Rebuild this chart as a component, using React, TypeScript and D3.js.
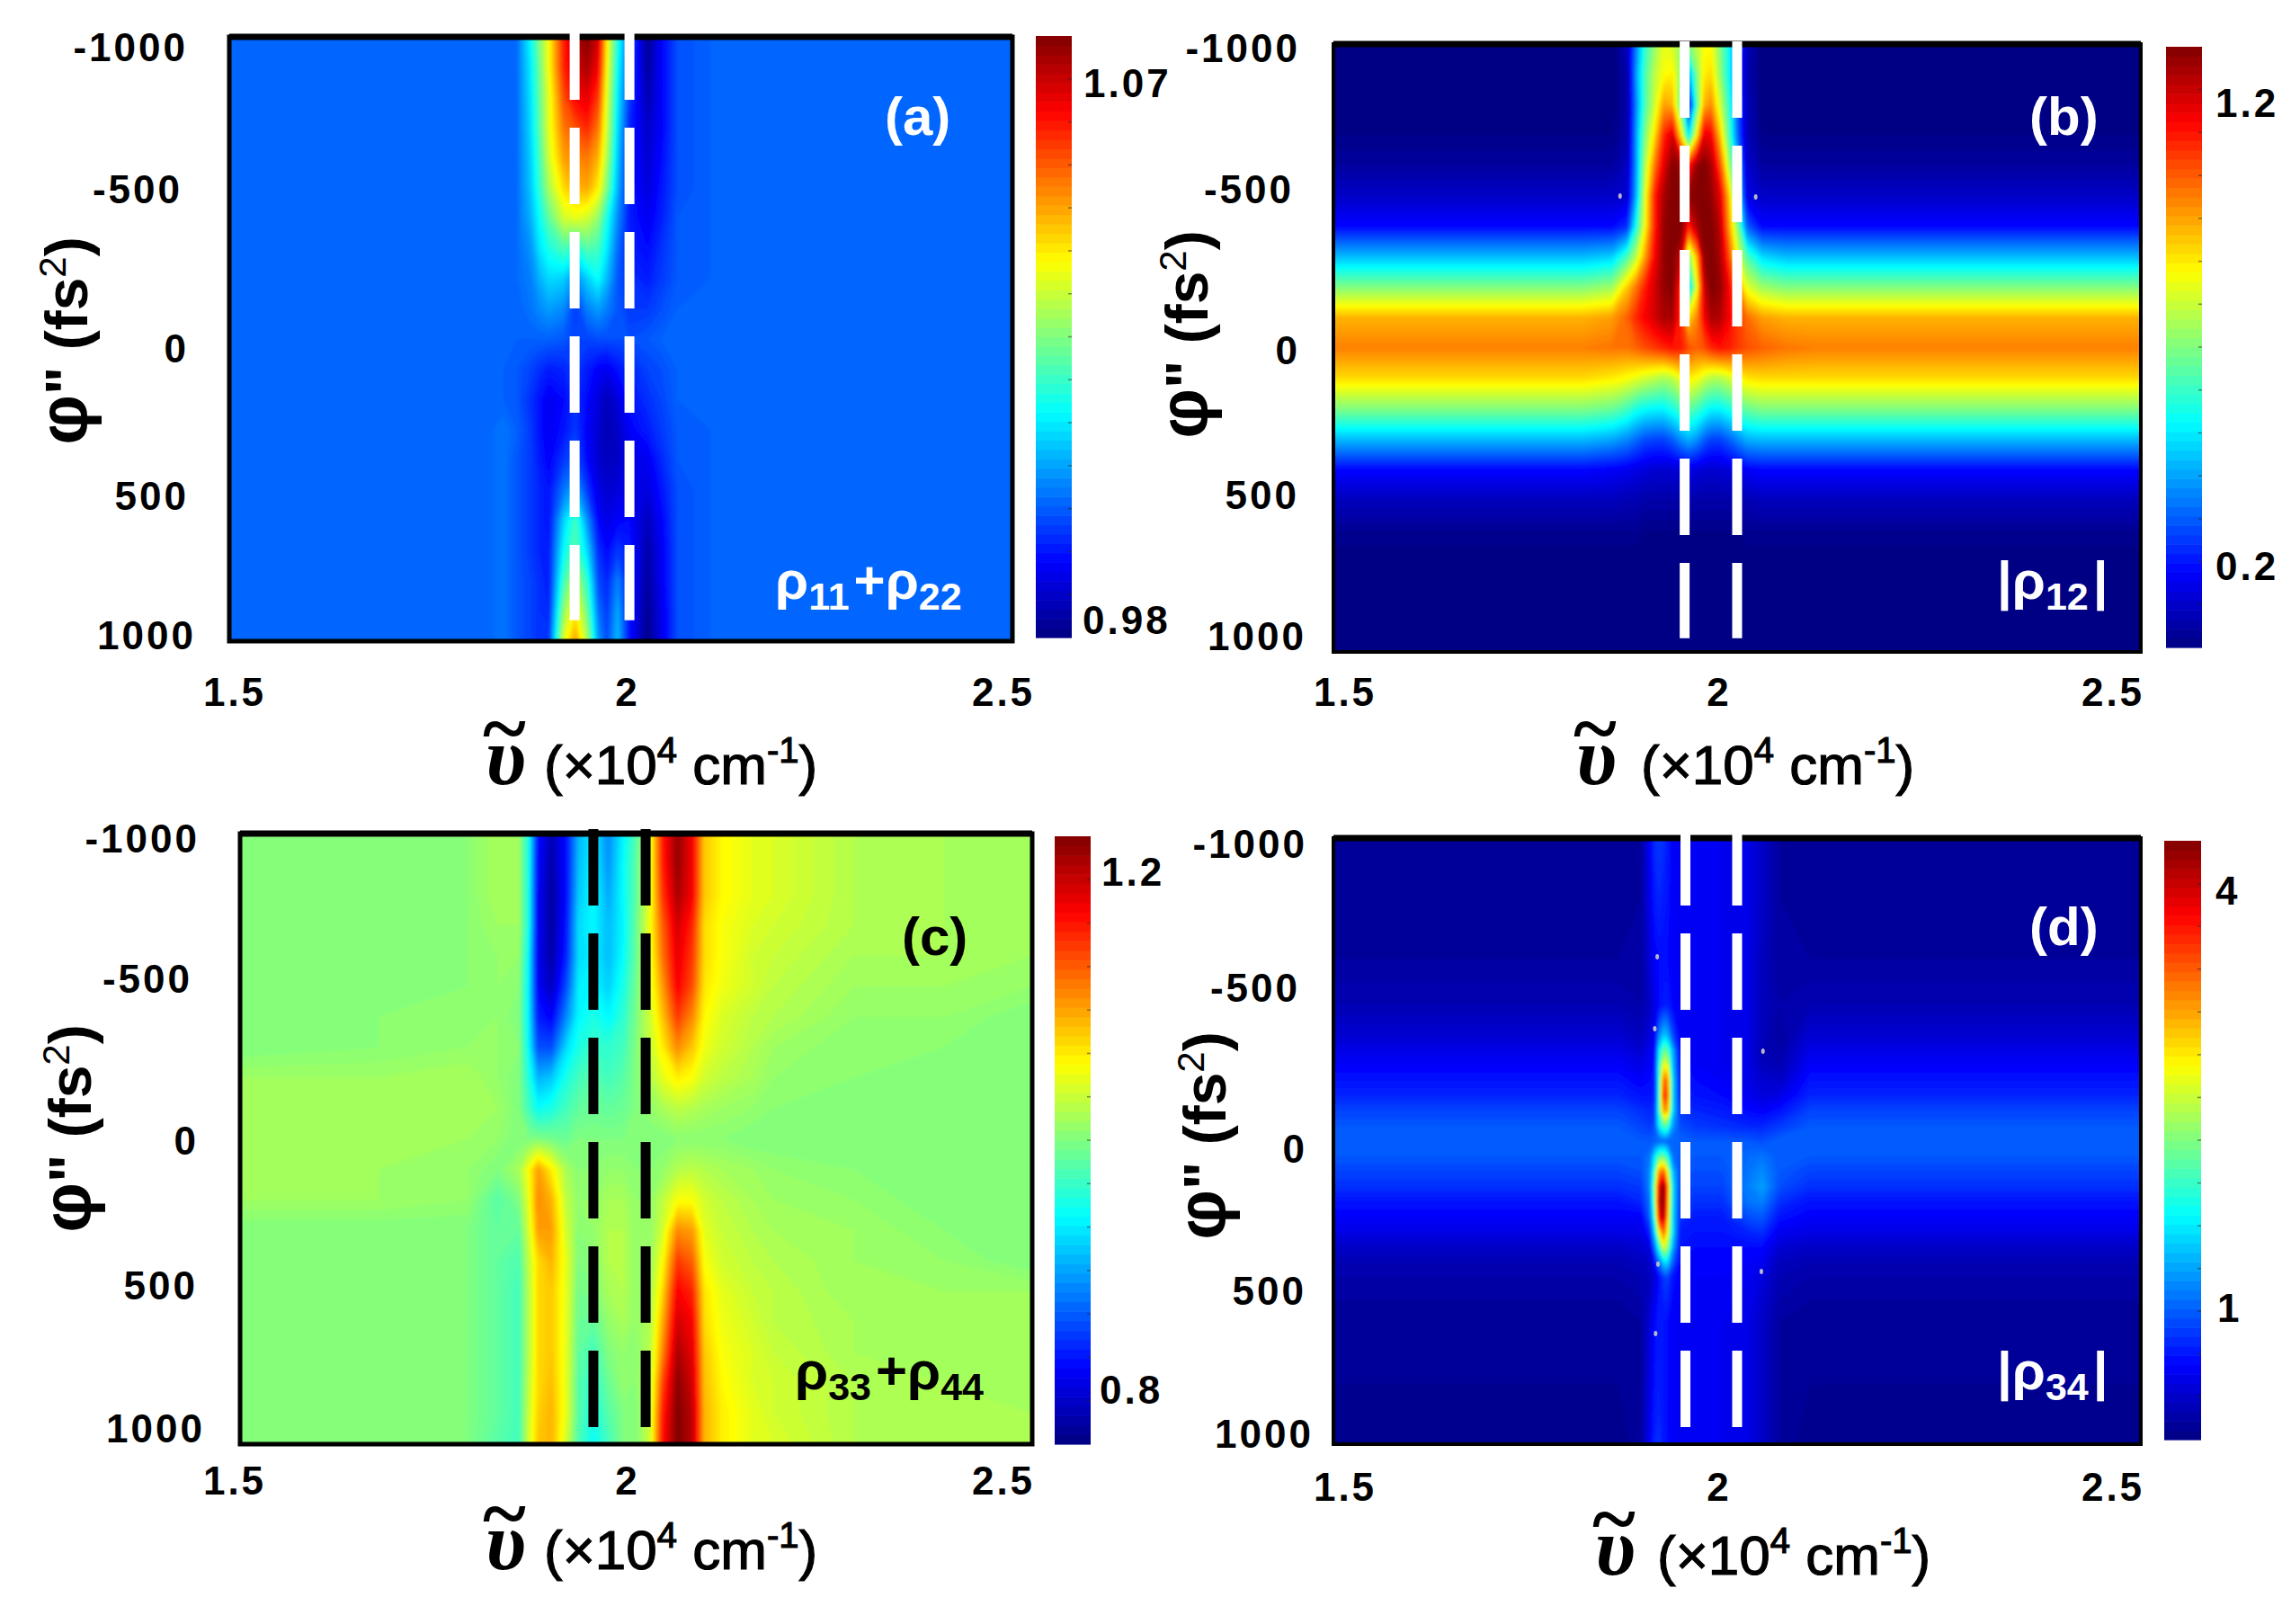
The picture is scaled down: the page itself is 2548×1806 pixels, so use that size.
import * as d3 from "d3";
import React, { useMemo } from "react";

// all grids hold the position on the jet colour bar, 0 (dark blue) .. 100 (dark red)
const phiTicks = ["-1000", "-500", "0", "500", "1000"];
const nuTicks = ["1.5", "2", "2.5"];
const phiEvery100 = [-1000, -900, -800, -700, -600, -500, -400, -300, -200, -100, 0, 100, 200, 300, 400, 500, 600, 700, 800, 900, 1000];

// (a) rho11 + rho22
const nuA = [1.5, 1.824, 1.85, 1.867, 1.885, 1.896, 1.908, 1.927, 1.942, 1.957, 1.971, 1.982, 1.996, 2.011, 2.034, 2.051, 2.072, 2.114, 2.5];
const gridA = [
  [22, 22, 22, 23, 38, 50, 62, 85, 95, 100, 92, 65, 40, 22, 2, 12, 20, 22, 22],
  [22, 22, 22, 23, 36, 48, 62, 84, 92, 96, 88, 63, 38, 20, 3, 12, 20, 22, 22],
  [22, 22, 22, 23, 35, 47, 60, 80, 88, 90, 82, 60, 36, 18, 5, 12, 20, 22, 22],
  [22, 22, 22, 23, 34, 46, 60, 76, 80, 84, 76, 58, 34, 16, 7, 12, 20, 22, 22],
  [22, 22, 22, 23, 33, 44, 58, 72, 74, 76, 70, 55, 32, 15, 8, 13, 20, 22, 22],
  [22, 22, 22, 23, 32, 42, 54, 66, 70, 71, 64, 50, 30, 15, 9, 14, 20, 22, 22],
  [22, 22, 22, 23, 30, 38, 47, 58, 60, 58, 52, 40, 26, 15, 11, 15, 21, 22, 22],
  [22, 22, 22, 23, 27, 35, 40, 45, 40, 46, 44, 36, 23, 15, 13, 17, 21, 22, 22],
  [22, 22, 22, 23, 25, 30, 34, 33, 26, 33, 38, 31, 21, 17, 15, 18, 21, 22, 22],
  [22, 22, 22, 22, 24, 26, 28, 26, 18, 25, 28, 25, 21, 18, 18, 20, 22, 22, 22],
  [22, 22, 22, 22, 22, 22, 22, 21, 19, 19, 20, 20, 20, 20, 21, 22, 22, 22, 22],
  [22, 22, 22, 21, 19, 17, 15, 16, 18, 15, 12, 11, 14, 16, 19, 20, 22, 22, 22],
  [22, 22, 22, 21, 17, 14, 11, 13, 17, 13, 9, 6, 9, 14, 17, 19, 22, 22, 22],
  [22, 22, 24, 22, 18, 14, 11, 14, 18, 12, 8, 5, 7, 12, 15, 18, 21, 22, 22],
  [22, 22, 24, 21, 18, 15, 12, 18, 21, 13, 8, 6, 7, 10, 11, 16, 21, 22, 22],
  [22, 22, 24, 21, 18, 16, 14, 24, 30, 18, 10, 8, 9, 10, 9, 14, 20, 22, 22],
  [22, 22, 24, 21, 18, 16, 14, 33, 44, 27, 13, 10, 12, 13, 6, 12, 20, 22, 22],
  [22, 22, 24, 21, 18, 16, 15, 38, 46, 34, 17, 13, 18, 15, 4, 11, 20, 22, 22],
  [22, 22, 24, 21, 19, 17, 15, 44, 56, 42, 20, 16, 25, 15, 3, 11, 20, 22, 22],
  [22, 22, 24, 21, 19, 17, 16, 52, 64, 48, 24, 18, 29, 14, 2, 10, 20, 22, 22],
  [22, 22, 24, 21, 19, 17, 18, 60, 72, 55, 28, 20, 31, 14, 1, 10, 20, 22, 22],
];

// (b) |rho12|
const nuB = [1.5, 1.808, 1.845, 1.864, 1.875, 1.886, 1.898, 1.909, 1.92, 1.931, 1.94, 1.95, 1.959, 1.968, 1.979, 1.99, 2.001, 2.012, 2.031, 2.061, 2.098, 2.5];
const gridB = [
  [0, 0, 0, 6, 25, 42, 52, 60, 58, 52, 50, 56, 62, 62, 50, 38, 20, 6, 0, 0, 0, 0],
  [0, 0, 0, 4, 28, 45, 56, 62, 64, 50, 28, 50, 64, 66, 52, 38, 20, 5, 0, 0, 0, 0],
  [0, 0, 0, 4, 26, 45, 58, 72, 70, 45, 10, 45, 70, 74, 58, 42, 20, 6, 0, 0, 0, 0],
  [1, 1, 1, 4, 28, 50, 66, 84, 92, 64, 35, 64, 90, 88, 68, 45, 22, 6, 1, 1, 1, 1],
  [3, 3, 3, 6, 28, 55, 76, 90, 100, 96, 85, 98, 100, 96, 80, 55, 30, 8, 3, 3, 3, 3],
  [7, 7, 7, 8, 30, 60, 85, 96, 100, 100, 98, 100, 100, 98, 90, 68, 38, 10, 7, 7, 7, 7],
  [13, 13, 13, 17, 40, 62, 85, 98, 100, 100, 84, 96, 100, 100, 94, 72, 50, 22, 13, 13, 13, 13],
  [31, 31, 33, 45, 56, 72, 88, 98, 100, 92, 50, 70, 98, 100, 96, 80, 60, 45, 34, 31, 31, 31],
  [50, 50, 53, 68, 76, 85, 92, 98, 100, 82, 32, 60, 92, 100, 98, 88, 75, 60, 53, 50, 50, 50],
  [70, 70, 72, 78, 84, 88, 92, 96, 96, 82, 66, 74, 88, 96, 95, 88, 82, 77, 72, 70, 70, 70],
  [75, 75, 76, 76, 78, 80, 82, 84, 86, 85, 80, 78, 80, 84, 86, 85, 82, 80, 78, 76, 75, 75],
  [66, 66, 64, 62, 60, 58, 56, 54, 56, 62, 64, 62, 58, 55, 55, 58, 62, 65, 66, 66, 66, 66],
  [50, 50, 48, 44, 40, 38, 37, 37, 40, 45, 47, 44, 40, 37, 37, 40, 44, 48, 50, 50, 50, 50],
  [31, 31, 29, 26, 23, 20, 19, 19, 22, 27, 30, 27, 22, 19, 19, 22, 26, 30, 31, 31, 31, 31],
  [13, 13, 12, 11, 10, 9, 8, 8, 8, 9, 10, 9, 8, 8, 8, 9, 10, 12, 13, 13, 13, 13],
  [6, 6, 6, 5, 5, 4, 4, 4, 4, 4, 5, 4, 4, 4, 4, 4, 5, 5, 6, 6, 6, 6],
  [2, 2, 2, 2, 2, 1, 1, 1, 1, 1, 1, 1, 1, 1, 1, 1, 1, 2, 2, 2, 2, 2],
  [0, 0, 0, 0, 0, 0, 0, 0, 0, 0, 0, 0, 0, 0, 0, 0, 0, 0, 0, 0, 0, 0],
  [0, 0, 0, 0, 0, 0, 0, 0, 0, 0, 0, 0, 0, 0, 0, 0, 0, 0, 0, 0, 0, 0],
  [0, 0, 0, 0, 0, 0, 0, 0, 0, 0, 0, 0, 0, 0, 0, 0, 0, 0, 0, 0, 0, 0],
  [0, 0, 0, 0, 0, 0, 0, 0, 0, 0, 0, 0, 0, 0, 0, 0, 0, 0, 0, 0, 0, 0],
];
const specksB = [[1.855, -500], [2.023, -497]];

// (c) rho33 + rho44
const nuC = [1.5, 1.674, 1.787, 1.825, 1.852, 1.864, 1.876, 1.893, 1.912, 1.927, 1.946, 1.965, 1.984, 1.999, 2.018, 2.033, 2.052, 2.071, 2.086, 2.108, 2.147, 2.173, 2.275, 2.389, 2.5];
const gridC = [
  [50, 50, 51, 54, 53, 40, 14, 5, 14, 30, 36, 26, 37, 45, 60, 85, 98, 88, 68, 63, 60, 59, 55, 54, 53],
  [50, 50, 51, 54, 53, 40, 13, 4, 14, 31, 37, 27, 38, 46, 61, 84, 98, 88, 68, 63, 60, 59, 55, 54, 53],
  [50, 50, 51, 54, 53, 40, 12, 3, 14, 32, 38, 29, 38, 46, 61, 82, 96, 88, 68, 63, 60, 59, 55, 54, 53],
  [50, 50, 51, 53, 53, 40, 12, 3, 15, 34, 37, 31, 37, 47, 62, 78, 92, 84, 66, 62, 59, 58, 55, 54, 53],
  [50, 50, 51, 52, 52, 38, 11, 4, 16, 34, 36, 31, 38, 47, 61, 76, 90, 82, 66, 62, 58, 57, 54, 54, 53],
  [50, 50, 51, 52, 51, 37, 12, 6, 20, 36, 37, 33, 40, 48, 60, 72, 88, 80, 65, 61, 58, 56, 53, 53, 52],
  [50, 51, 51, 52, 50, 37, 15, 12, 26, 37, 40, 37, 42, 49, 58, 68, 82, 74, 63, 59, 56, 55, 52, 52, 50],
  [50, 51, 52, 52, 51, 38, 20, 20, 34, 40, 43, 42, 44, 50, 57, 64, 74, 68, 61, 58, 55, 53, 51, 51, 50],
  [53, 53, 54, 52, 50, 41, 30, 32, 40, 44, 46, 44, 46, 50, 55, 60, 64, 62, 58, 56, 54, 52, 51, 50, 50],
  [53, 53, 53, 53, 50, 44, 38, 40, 44, 47, 48, 47, 48, 50, 52, 54, 56, 55, 54, 53, 52, 51, 50, 50, 50],
  [53, 53, 53, 52, 50, 50, 50, 49, 48, 50, 50, 50, 50, 50, 50, 50, 51, 51, 51, 51, 50, 50, 50, 50, 50],
  [53, 53, 52, 50, 54, 62, 72, 64, 54, 51, 51, 52, 52, 51, 51, 52, 55, 56, 55, 54, 53, 52, 51, 50, 50],
  [53, 53, 52, 46, 50, 60, 74, 70, 56, 52, 52, 54, 54, 52, 52, 56, 62, 62, 58, 56, 54, 53, 52, 50, 50],
  [50, 50, 50, 47, 47, 58, 72, 72, 58, 51, 52, 55, 55, 52, 52, 58, 74, 72, 60, 57, 55, 54, 53, 51, 50],
  [50, 50, 50, 47, 45, 56, 66, 70, 60, 50, 51, 55, 55, 52, 53, 62, 82, 78, 62, 58, 56, 55, 53, 52, 50],
  [50, 50, 50, 47, 44, 55, 66, 68, 60, 49, 50, 54, 55, 52, 54, 66, 88, 84, 65, 60, 57, 56, 53, 53, 53],
  [50, 50, 50, 47, 44, 55, 66, 68, 60, 48, 47, 52, 54, 52, 55, 70, 92, 88, 66, 61, 58, 56, 54, 53, 53],
  [50, 50, 50, 47, 44, 55, 66, 68, 60, 47, 44, 50, 52, 51, 56, 74, 96, 90, 68, 62, 59, 57, 54, 53, 53],
  [50, 50, 50, 47, 44, 56, 66, 69, 60, 46, 42, 48, 52, 51, 57, 80, 99, 92, 69, 63, 59, 58, 55, 54, 53],
  [50, 50, 50, 47, 44, 57, 67, 70, 60, 46, 40, 46, 50, 50, 58, 84, 100, 94, 70, 64, 60, 58, 55, 54, 54],
  [50, 50, 50, 46, 44, 58, 68, 70, 58, 45, 38, 44, 50, 50, 58, 86, 100, 94, 70, 64, 60, 59, 55, 54, 54],
];

// (d) |rho34|, rows are denser round the two narrow peaks
const nuD = [1.5, 1.853, 1.881, 1.892, 1.898, 1.903, 1.909, 1.914, 1.92, 1.929, 1.948, 1.981, 2.014, 2.031, 2.053, 2.09, 2.5];
const phiD = [-1000, -800, -600, -450, -350, -300, -250, -200, -150, -100, -50, 0, 50, 100, 150, 200, 250, 300, 350, 400, 450, 600, 800, 1000];
const gridD = [
  [2, 2, 3, 12, 17, 18, 17, 15, 12, 11, 11, 11, 10, 7, 3, 2, 2],
  [2, 2, 3, 11, 15, 16, 15, 14, 12, 11, 11, 11, 10, 7, 3, 2, 2],
  [3, 3, 3, 9, 12, 13, 13, 13, 12, 11, 11, 11, 10, 6, 3, 3, 3],
  [5, 5, 4, 7, 10, 13, 15, 15, 13, 11, 11, 11, 10, 6, 4, 5, 5],
  [8, 8, 6, 9, 12, 25, 32, 30, 20, 12, 11, 11, 10, 6, 3, 8, 8],
  [10, 10, 8, 11, 13, 35, 48, 45, 30, 13, 11, 11, 10, 5, 4, 10, 10],
  [12, 12, 10, 12, 14, 40, 62, 60, 32, 14, 12, 11, 10, 6, 5, 12, 12],
  [14, 14, 12, 13, 15, 40, 78, 74, 35, 15, 13, 12, 10, 8, 7, 14, 14],
  [16, 16, 14, 14, 16, 40, 84, 78, 35, 16, 14, 13, 11, 9, 10, 16, 16],
  [19, 19, 17, 16, 18, 42, 72, 70, 35, 18, 16, 15, 13, 12, 14, 19, 19],
  [21, 21, 19, 18, 20, 36, 46, 44, 28, 20, 18, 17, 16, 16, 18, 21, 21],
  [22, 22, 21, 21, 22, 22, 23, 22, 22, 22, 21, 21, 21, 20, 22, 22, 22],
  [21, 21, 21, 24, 36, 46, 48, 40, 24, 21, 21, 21, 23, 24, 21, 21, 21],
  [19, 19, 20, 26, 45, 72, 78, 60, 32, 20, 20, 20, 24, 26, 21, 19, 19],
  [17, 17, 18, 26, 52, 88, 100, 74, 36, 19, 19, 19, 25, 28, 20, 17, 17],
  [14, 14, 16, 24, 50, 92, 100, 72, 36, 18, 17, 17, 24, 25, 17, 14, 14],
  [12, 12, 12, 22, 44, 86, 96, 68, 35, 17, 15, 15, 20, 21, 14, 12, 12],
  [10, 10, 10, 16, 35, 62, 78, 62, 36, 15, 14, 14, 16, 17, 11, 10, 10],
  [7, 7, 8, 10, 25, 40, 60, 52, 30, 14, 13, 13, 13, 13, 8, 7, 7],
  [5, 5, 6, 7, 14, 24, 34, 34, 22, 13, 12, 12, 12, 11, 6, 5, 5],
  [4, 4, 5, 6, 9, 13, 18, 19, 14, 12, 12, 12, 11, 9, 5, 4, 4],
  [2, 2, 3, 9, 13, 15, 14, 13, 12, 11, 11, 11, 10, 7, 3, 2, 2],
  [2, 2, 3, 10, 14, 15, 14, 13, 12, 11, 11, 11, 10, 7, 3, 2, 2],
  [1, 1, 3, 12, 16, 17, 15, 13, 12, 11, 11, 11, 10, 7, 3, 1, 1],
];
const specksD = [[1.901, -608], [1.898, -371], [2.032, -297], [1.902, 406], [2.03, 430], [1.899, 635]];

const jet = d3
  .scaleLinear<string>()
  .domain([0, 12.5, 37.5, 62.5, 87.5, 100])
  .range(["#000080", "#0000ff", "#00ffff", "#ffff00", "#ff0000", "#800000"]);

const levels = d3.range(0, 100, 1);
const cbarSteps = d3.range(64);
const cbarTicks = d3.range(1, 14);
const sans = "'Liberation Sans', Arial, sans-serif";
const serif = "'Liberation Serif', serif";

interface PanelSpec {
  id: string;
  nu: number[];
  phi: number[];
  grid: number[][];
  box: [number, number, number, number]; // left, right, top, bottom
  cbar: [number, number, number, number];
  dashNu: [number, number];
  dashPhi: [number, number];
  dashColor: string;
  frame: number;
  xTickX: number[];
  xTickY: number;
  yTicks: [number, number][]; // right edge, centre
  cbarLabels: [string, number, number][];
  letter: [string, number, number];
  letterColor: string;
  name: React.ReactNode;
  nameAt: [number, number];
  yLabel: [number, number];
  xLabel: [number, number, number]; // v left, text left, baseline
  specks: number[][];
}

const sub = (t: string) => (
  <>
    <tspan dy={12} fontSize={43}>{t}</tspan>
    <tspan dy={-12} fontSize={60}>{"\u200a"}</tspan>
  </>
);

const panels: PanelSpec[] = [
  {
    id: "a", nu: nuA, phi: phiEvery100, grid: gridA,
    box: [255, 1126, 41, 713], cbar: [1152, 1192, 40, 709],
    dashNu: [1.941, 2.011], dashPhi: [-1045, 931], dashColor: "#fff", frame: 5,
    xTickX: [261, 698, 1116], xTickY: 785,
    yTicks: [[209, 52], [203, 210], [210, 387], [210, 551], [218, 706]],
    cbarLabels: [["1.07", 1205, 92], ["0.98", 1204, 689]],
    letter: ["(a)", 984, 150], letterColor: "#fff",
    name: <>ρ{sub("11")}+ρ{sub("22")}</>, nameAt: [862, 666],
    yLabel: [97, 379], xLabel: [540, 605, 872], specks: [],
  },
  {
    id: "b", nu: nuB, phi: phiEvery100, grid: gridB,
    box: [1483, 2381, 49, 725], cbar: [2409, 2449, 52, 720],
    dashNu: [1.935, 2.0], dashPhi: [-1009, 955], dashColor: "#fff", frame: 4,
    xTickX: [1496, 1912, 2350], xTickY: 785,
    yTicks: [[1446, 53], [1439, 210], [1446, 389], [1445, 550], [1453, 707]],
    cbarLabels: [["1.2", 2464, 114], ["0.2", 2464, 629]],
    letter: ["(b)", 2257, 150], letterColor: "#fff",
    name: <>|ρ{sub("12")}|</>, nameAt: [2221, 666],
    yLabel: [1343, 372], xLabel: [1753, 1825, 872], specks: specksB,
  },
  {
    id: "c", nu: nuC, phi: phiEvery100, grid: gridC,
    box: [267, 1148, 927, 1606], cbar: [1173, 1213, 930, 1606],
    dashNu: [1.946, 2.012], dashPhi: [-1015, 947], dashColor: "#000", frame: 5,
    xTickX: [261, 698, 1116], xTickY: 1662,
    yTicks: [[222, 932], [214, 1088], [221, 1268], [220, 1429], [228, 1588]],
    cbarLabels: [["1.2", 1225, 969], ["0.8", 1223, 1545]],
    letter: ["(c)", 1003, 1062], letterColor: "#000",
    name: <>ρ{sub("33")}+ρ{sub("44")}</>, nameAt: [884, 1545],
    yLabel: [101, 1255], xLabel: [540, 605, 1745], specks: [],
  },
  {
    id: "d", nu: nuD, phi: phiD, grid: gridD,
    box: [1483, 2381, 932, 1606], cbar: [2407, 2448, 935, 1601],
    dashNu: [1.936, 2.0], dashPhi: [-1030, 944], dashColor: "#fff", frame: 4,
    xTickX: [1496, 1912, 2350], xTickY: 1669,
    yTicks: [[1454, 938], [1446, 1098], [1454, 1277], [1453, 1435], [1461, 1594]],
    cbarLabels: [["4", 2464, 990], ["1", 2466, 1454]],
    letter: ["(d)", 2257, 1051], letterColor: "#fff",
    name: <>|ρ{sub("34")}|</>, nameAt: [2221, 1545],
    yLabel: [1363, 1263], xLabel: [1774, 1843, 1751], specks: specksD,
  },
];

const tickStyle = { fontFamily: sans, fontWeight: 700, fontSize: 44, letterSpacing: 3, fill: "#000" };

function Panel({ p }: { p: PanelSpec }) {
  const [left, right, top, bottom] = p.box;
  const x = d3.scaleLinear().domain([1.5, 2.5]).range([left, right]);
  const y = d3.scaleLinear().domain([-1000, 1000]).range([top, bottom]);

  const bands = useMemo(() => {
    const w = p.nu.length;
    const h = p.phi.length;
    // contour coordinates are in grid cells, map them back to data through the column and row lists
    const colToNu = d3.scaleLinear().domain(p.nu.map((_, i) => i + 0.5)).range(p.nu).clamp(true);
    const rowToPhi = d3.scaleLinear().domain(p.phi.map((_, i) => i + 0.5)).range(p.phi).clamp(true);
    const path = d3.geoPath(
      d3.geoTransform({
        point(px, py) {
          this.stream.point(x(colToNu(px)), y(rowToPhi(py)));
        },
      })
    );
    const contours = d3.contours().size([w, h]).smooth(true).thresholds(levels);
    return contours(p.grid.flat()).map((c) => ({ d: path(c) || "", value: c.value }));
  }, [p]);

  const bar = d3.scaleBand<number>().domain(cbarSteps).range([p.cbar[3], p.cbar[2]]);
  const clip = `clip-${p.id}`;
  const blur = `blur-${p.id}`;
  const dashLine = d3.line<[number, number]>().x((d) => x(d[0])).y((d) => y(d[1]));

  return (
    <g>
      <defs>
        <clipPath id={clip}><rect x={left} y={top} width={right - left} height={bottom - top} /></clipPath>
        <filter id={blur} x="-3%" y="-3%" width="106%" height="106%"><feGaussianBlur stdDeviation="1.6" /></filter>
      </defs>
      <g clipPath={`url(#${clip})`}>
        <g filter={`url(#${blur})`}>
          <rect x={left - 10} y={top - 10} width={right - left + 20} height={bottom - top + 20} fill={jet(d3.min(p.grid.flat()) as number)} />
          {bands.map((b) => (
            <path key={b.value} d={b.d} fill={jet(b.value + 0.5)} />
          ))}
        </g>
        {p.specks.map((s, i) => (
          <ellipse key={i} cx={x(s[0])} cy={y(s[1])} rx={2} ry={3} fill="#b8b8cc" />
        ))}
      </g>
      <rect x={left} y={top} width={right - left} height={bottom - top} fill="none" stroke="#000" strokeWidth={p.frame} />
      <line x1={left} x2={right} y1={y(-1000)} y2={y(-1000)} stroke="#000" strokeWidth={7} />
      {p.dashNu.map((n) => (
        <path
          key={n}
          d={dashLine([[n, p.dashPhi[0]], [n, p.dashPhi[1]]]) || ""}
          stroke={p.dashColor}
          strokeWidth={11}
          strokeDasharray="85 31"
          fill="none"
        />
      ))}

      {cbarSteps.map((s) => (
        <rect key={s} x={p.cbar[0]} y={bar(s)} width={p.cbar[1] - p.cbar[0]} height={(bar.bandwidth() || 0) + 0.6} fill={jet((s + 0.5) * 100 / 64)} />
      ))}
      {cbarTicks.map((t) => (
        <line
          key={t}
          x1={p.cbar[1] - 4}
          x2={p.cbar[1]}
          y1={p.cbar[3] + (p.cbar[2] - p.cbar[3]) * t / 14}
          y2={p.cbar[3] + (p.cbar[2] - p.cbar[3]) * t / 14}
          stroke="#222"
          strokeOpacity={0.5}
          strokeWidth={1.5}
        />
      ))}
      {p.cbarLabels.map(([t, lx, ly]) => (
        <text key={t} x={lx} y={ly} dy="0.36em" style={tickStyle}>{t}</text>
      ))}

      {nuTicks.map((t, i) => (
        <text key={t} x={p.xTickX[i]} y={p.xTickY} textAnchor="middle" style={tickStyle}>{t}</text>
      ))}
      {phiTicks.map((t, i) => (
        <text key={t} x={p.yTicks[i][0]} y={p.yTicks[i][1]} dy="0.36em" textAnchor="end" style={tickStyle}>{t}</text>
      ))}

      <text x={p.letter[1]} y={p.letter[2]} fontFamily={sans} fontWeight={700} fontSize={60} fill={p.letterColor}>{p.letter[0]}</text>
      <text x={p.nameAt[0]} y={p.nameAt[1]} fontFamily={sans} fontWeight={700} fontSize={60} fill={p.letterColor}>{p.name}</text>

      <text
        transform={`translate(${p.yLabel[0]},${p.yLabel[1]}) rotate(-90)`}
        textAnchor="middle"
        fontFamily={sans}
        fontWeight={700}
        fontSize={66}
        fill="#000"
      >
        <tspan fontSize={78}>φ</tspan>
        <tspan>" (fs</tspan>
        <tspan dy={-24} fontSize={42} fontWeight={400}>2</tspan>
        <tspan dy={24}>)</tspan>
      </text>

      <text x={p.xLabel[0]} y={p.xLabel[2]} fontFamily={serif} fontStyle="italic" fontWeight={700} fontSize={92} fill="#000">υ</text>
      <text x={p.xLabel[0] - 3} y={p.xLabel[2] - 32} fontFamily={serif} fontWeight={700} fontSize={92} fill="#000">~</text>
      <text x={p.xLabel[1]} y={p.xLabel[2]} fontFamily={sans} fontSize={62} stroke="#000" strokeWidth={1.2} fill="#000">
        (×10
        <tspan dy={-24} fontSize={40}>4</tspan>
        <tspan dy={24}> cm</tspan>
        <tspan dy={-24} fontSize={40}>-1</tspan>
        <tspan dy={24}>)</tspan>
      </text>
    </g>
  );
}

export default function App() {
  return (
    <svg
      width={2548}
      height={1806}
      viewBox="0 0 2548 1806"
      style={{ position: "absolute", left: 0, top: 0, background: "#fff" }}
    >
      {panels.map((p) => (
        <Panel key={p.id} p={p} />
      ))}
    </svg>
  );
}
